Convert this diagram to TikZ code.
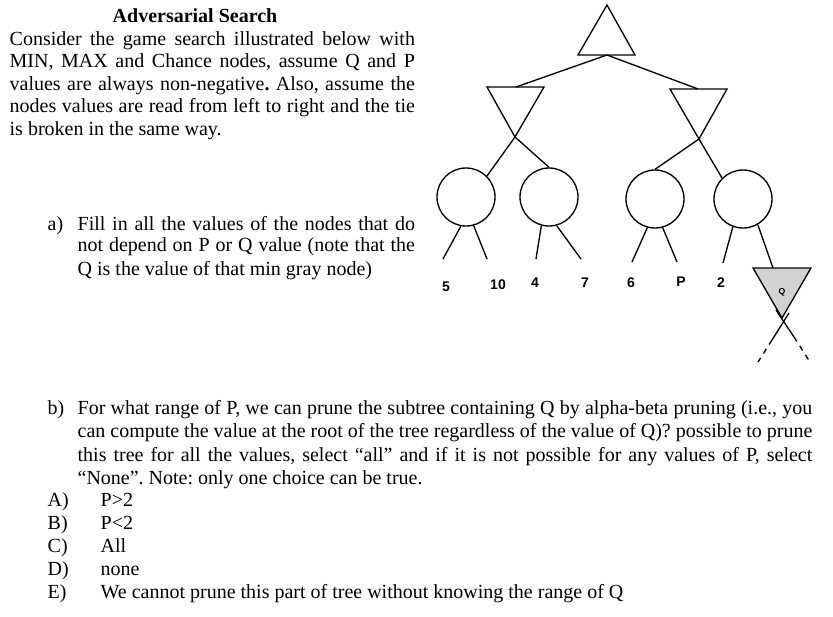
\documentclass[tikz,border=0pt]{standalone}
\usepackage{fontspec}
\setmainfont{Liberation Serif}
\setsansfont{Liberation Sans}
\begin{document}
\frenchspacing
\begin{tikzpicture}[x=0.75pt,y=-0.75pt,line width=1pt,
  txt/.style={anchor=base west,inner sep=0pt,font=\fontsize{15}{17}\selectfont},
  leaf/.style={inner sep=0pt,font=\sffamily\bfseries\fontsize{10.5}{12}\selectfont},
  chance/.style={draw,circle,minimum size=43.5pt,inner sep=0pt}]
\useasboundingbox (0,0) rectangle (833,617);
% text
\node[anchor=base,inner sep=0pt,font=\bfseries\fontsize{15}{17}\selectfont] (title) at (195,23) {Adversarial Search};
\node[txt] (t1) at (9,46) {\makebox[304pt][s]{Consider the game search illustrated below with}};
\node[txt] (t2) at (9,68) {\makebox[304pt][s]{MIN, MAX and Chance nodes, assume Q and P}};
\node[txt] (t3) at (9,91) {\makebox[304pt][s]{values are always non-negative\textbf{.} Also, assume the}};
\node[txt] (t4) at (9,113) {\makebox[304pt][s]{nodes values are read from left to right and the tie}};
\node[txt] (t5) at (9,136) {is broken in the same way.};
\node[txt] (al) at (47,230) {a)};
\node[txt] (a1) at (77,230) {\makebox[253pt][s]{Fill in all the values of the nodes that do}};
\node[txt] (a2) at (77,252) {\makebox[253pt][s]{not depend on P or Q value (note that the}};
\node[txt] (a3) at (77,275) {Q is the value of that min gray node)};
\node[txt] (bl) at (47,414) {b)};
\node[txt] (b1) at (77,414) {\makebox[551pt][s]{For what range of P, we can prune the subtree containing Q by alpha-beta pruning (i.e., you}};
\node[txt] (b2) at (77,437) {\makebox[551pt][s]{can compute the value at the root of the tree regardless of the value of Q)? possible to prune}};
\node[txt] (b3) at (77,461) {\makebox[551pt][s]{this tree for all the values, select ``all'' and if it is not possible for any values of P, select}};
\node[txt] (b4) at (77,484) {``None''. Note: only one choice can be true.};
\node[txt] (oA) at (47,506) {A)}; \node[txt] (vA) at (100,506) {P>2};
\node[txt] (oB) at (47,529) {B)}; \node[txt] (vB) at (100,529) {P<2};
\node[txt] (oC) at (47,552) {C)}; \node[txt] (vC) at (100,552) {All};
\node[txt] (oD) at (47,575) {D)}; \node[txt] (vD) at (100,575) {none};
\node[txt] (oE) at (47,598) {E)}; \node[txt] (vE) at (100,598) {We cannot prune this part of tree without knowing the range of Q};
% tree
\draw (607,5) -- (635,55) -- (578,55) -- cycle;
\coordinate (root) at (607,55);
\draw (487,87) -- (544,87) -- (515,137) -- cycle;
\coordinate (m1t) at (516,87); \coordinate (m1) at (515,137);
\draw (670,89) -- (727,89) -- (699,139) -- cycle;
\coordinate (m2t) at (698,89); \coordinate (m2) at (699,139);
\fill[gray!35] (753,268) -- (811,268) -- (782,318) -- cycle;
\draw (753,268) -- (811,268) -- (782,318) -- cycle;
\node[inner sep=0pt,font=\sffamily\bfseries\fontsize{6.5}{8}\selectfont] (q) at (782,292) {Q};
\coordinate (qt) at (773,268);
\draw (root) -- (m1t);
\draw (root) -- (m2t);
\node[chance] (c1) at (466,197) {};
\node[chance] (c2) at (549,197) {};
\node[chance] (c3) at (655,199) {};
\node[chance] (c4) at (743,199) {};
\draw (m1) -- (c1.north east);
\draw (m1) -- (c2.north);
\draw (m2) -- (c3.north);
\draw (m2) -- (c4.north west);
\node[leaf] (l1) at (446,287) {5};
\node[leaf] (l2) at (498,285) {10};
\node[leaf] (l3) at (535,283) {4};
\node[leaf] (l4) at (585,283) {7};
\node[leaf] (l5) at (631,283) {6};
\node[leaf] (l6) at (681,282) {P};
\node[leaf] (l7) at (721,283) {2};
\coordinate (e1) at (443,259); \coordinate (e2) at (487,259);
\coordinate (e3) at (536,259); \coordinate (e4) at (581,259);
\coordinate (e5) at (632,262); \coordinate (e6) at (677,262);
\coordinate (e7) at (723,263);
\draw (c1.260) -- (e1); \draw (c1.285) -- (e2);
\draw (c2.255) -- (e3); \draw (c2.285) -- (e4);
\draw (c3.255) -- (e5); \draw (c3.285) -- (e6);
\draw (c4.250) -- (e7); \draw (c4.300) -- (qt);
\coordinate (xa) at (789,313); \coordinate (xam) at (772,340); \coordinate (xae) at (758,362);
\coordinate (xb) at (776,310); \coordinate (xbm) at (794,337); \coordinate (xbe) at (810,362);
\draw (xa) -- (xam); \draw[dash pattern=on 4pt off 4pt] (xam) -- (xae);
\draw (xb) -- (xbm); \draw[dash pattern=on 4pt off 4pt] (xbm) -- (xbe);
\end{tikzpicture}
\end{document}
